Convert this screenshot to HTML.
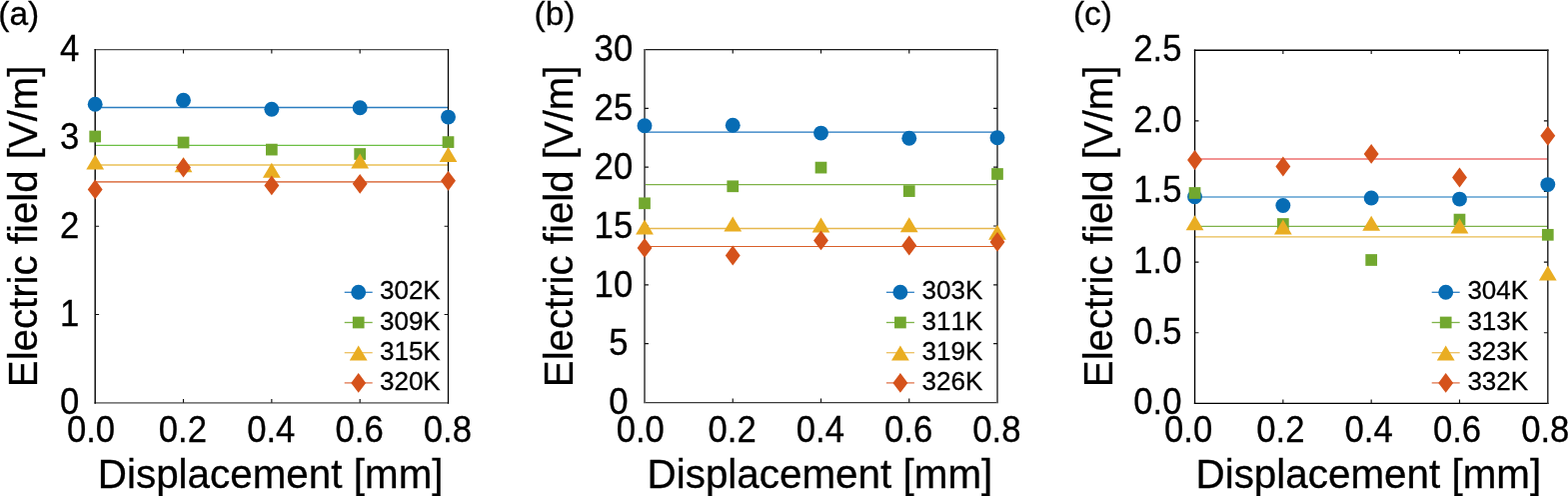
<!DOCTYPE html>
<html lang="en">
<head>
<meta charset="utf-8">
<title>Electric field vs displacement</title>
<style>
html,body{margin:0;padding:0;background:#fff;}
body{width:1569px;height:496px;overflow:hidden;}
svg{display:block;}
svg text{font-family:"Liberation Sans", Arial, Helvetica, sans-serif;fill:#000;font-kerning:none;stroke:#000;stroke-width:0.3px;}
</style>
</head>
<body>
<svg width="1569" height="496" viewBox="0 0 1569 496">
<rect width="1569" height="496" fill="#fff"/>
<g>
<text transform="translate(-1.70 24.90) scale(1 1.0)" font-size="33.5">(a)</text>
<line x1="95.20" y1="107.50" x2="448.50" y2="107.50" stroke="#2b7dc0" stroke-width="1.35"/>
<line x1="95.20" y1="145.30" x2="448.50" y2="145.30" stroke="#6cbf45" stroke-width="1.3"/>
<line x1="95.20" y1="165.10" x2="448.50" y2="165.10" stroke="#eac057" stroke-width="1.5"/>
<line x1="95.20" y1="181.90" x2="448.50" y2="181.90" stroke="#e0835c" stroke-width="1.6"/>
<line x1="94.50" y1="49.60" x2="449.12" y2="49.60" stroke="#505050" stroke-width="1.3"/>
<line x1="94.50" y1="402.85" x2="449.12" y2="402.85" stroke="#7c7c7c" stroke-width="1.8"/>
<line x1="95.20" y1="48.95" x2="95.20" y2="403.75" stroke="#000" stroke-width="1.4"/>
<line x1="448.50" y1="48.95" x2="448.50" y2="403.75" stroke="#000" stroke-width="1.25"/>
<path d="M183.53 402.80v-3.9M183.53 49.60v3.9M271.85 402.80v-3.9M271.85 49.60v3.9M360.18 402.80v-3.9M360.18 49.60v3.9M95.20 314.50h3.9M448.50 314.50h-3.9M95.20 226.20h3.9M448.50 226.20h-3.9M95.20 137.90h3.9M448.50 137.90h-3.9" stroke="#111" stroke-width="1.15" fill="none"/>
<circle cx="95.20" cy="104.20" r="7.45" fill="#076cb4"/>
<circle cx="183.53" cy="100.20" r="7.45" fill="#076cb4"/>
<circle cx="271.85" cy="109.20" r="7.45" fill="#076cb4"/>
<circle cx="360.18" cy="107.80" r="7.45" fill="#076cb4"/>
<circle cx="448.50" cy="117.10" r="7.45" fill="#076cb4"/>
<rect x="89.35" y="130.65" width="11.7" height="11.7" fill="#72a82f"/>
<rect x="177.68" y="136.65" width="11.7" height="11.7" fill="#72a82f"/>
<rect x="266.00" y="143.75" width="11.7" height="11.7" fill="#72a82f"/>
<rect x="354.32" y="148.15" width="11.7" height="11.7" fill="#72a82f"/>
<rect x="442.65" y="136.25" width="11.7" height="11.7" fill="#72a82f"/>
<polygon points="95.20,154.60 104.10,169.60 86.30,169.60" fill="#e9ad22"/>
<polygon points="183.53,157.20 192.43,172.20 174.62,172.20" fill="#e9ad22"/>
<polygon points="271.85,162.70 280.75,177.70 262.95,177.70" fill="#e9ad22"/>
<polygon points="360.18,153.60 369.07,168.60 351.28,168.60" fill="#e9ad22"/>
<polygon points="448.50,147.10 457.40,162.10 439.60,162.10" fill="#e9ad22"/>
<polygon points="95.20,179.50 102.65,189.40 95.20,199.30 87.75,189.40" fill="#d5521b"/>
<polygon points="183.53,157.60 190.97,167.50 183.53,177.40 176.08,167.50" fill="#d5521b"/>
<polygon points="271.85,175.50 279.30,185.40 271.85,195.30 264.40,185.40" fill="#d5521b"/>
<polygon points="360.18,173.95 367.62,183.85 360.18,193.75 352.73,183.85" fill="#d5521b"/>
<polygon points="448.50,170.90 455.95,180.80 448.50,190.70 441.05,180.80" fill="#d5521b"/>
<text transform="translate(79.30 414.20) scale(1 1.055)" font-size="34.7" text-anchor="end">0</text>
<text transform="translate(79.30 325.95) scale(1 1.055)" font-size="34.7" text-anchor="end">1</text>
<text transform="translate(79.30 237.70) scale(1 1.055)" font-size="34.7" text-anchor="end">2</text>
<text transform="translate(79.30 149.45) scale(1 1.055)" font-size="34.7" text-anchor="end">3</text>
<text transform="translate(79.30 61.20) scale(1 1.055)" font-size="34.7" text-anchor="end">4</text>
<text transform="translate(91.00 441.90) scale(1 1.055)" font-size="34.7" text-anchor="middle">0.0</text>
<text transform="translate(182.93 441.90) scale(1 1.055)" font-size="34.7" text-anchor="middle">0.2</text>
<text transform="translate(271.25 441.90) scale(1 1.055)" font-size="34.7" text-anchor="middle">0.4</text>
<text transform="translate(359.57 441.90) scale(1 1.055)" font-size="34.7" text-anchor="middle">0.6</text>
<text transform="translate(447.90 441.90) scale(1 1.055)" font-size="34.7" text-anchor="middle">0.8</text>
<text transform="translate(270.65 488.10) scale(1 1.005)" font-size="40.4" text-anchor="middle">Displacement [mm]</text>
<text transform="translate(37.40 226.30) rotate(-90) scale(1 1.005)" font-size="40.2" text-anchor="middle">Electric field [V/m]</text>
<line x1="344.70" y1="292.30" x2="372.70" y2="292.30" stroke="#2f80c4" stroke-width="1.3"/>
<circle cx="358.70" cy="292.30" r="7.45" fill="#076cb4"/>
<text transform="translate(380.00 299.40) scale(1 1.02)" font-size="26">302K</text>
<line x1="344.70" y1="322.50" x2="372.70" y2="322.50" stroke="#7fb44a" stroke-width="1.3"/>
<rect x="352.85" y="316.65" width="11.7" height="11.7" fill="#72a82f"/>
<text transform="translate(380.00 329.60) scale(1 1.02)" font-size="26">309K</text>
<line x1="344.70" y1="352.70" x2="372.70" y2="352.70" stroke="#ecc060" stroke-width="1.3"/>
<polygon points="358.70,345.40 367.60,360.40 349.80,360.40" fill="#e9ad22"/>
<text transform="translate(380.00 359.80) scale(1 1.02)" font-size="26">315K</text>
<line x1="344.70" y1="382.90" x2="372.70" y2="382.90" stroke="#e0764e" stroke-width="1.3"/>
<polygon points="358.70,373.00 366.15,382.90 358.70,392.80 351.25,382.90" fill="#d5521b"/>
<text transform="translate(380.00 390.00) scale(1 1.02)" font-size="26">320K</text>
</g>
<g>
<text transform="translate(534.50 24.90) scale(1 1.0)" font-size="33.5">(b)</text>
<line x1="645.00" y1="132.10" x2="998.00" y2="132.10" stroke="#2277bf" stroke-width="1.25"/>
<line x1="645.00" y1="184.70" x2="998.00" y2="184.70" stroke="#7fb248" stroke-width="1.25"/>
<line x1="645.00" y1="228.50" x2="998.00" y2="228.50" stroke="#e6b84f" stroke-width="1.3"/>
<line x1="645.00" y1="246.50" x2="998.00" y2="246.50" stroke="#d9602b" stroke-width="1.2"/>
<line x1="644.05" y1="49.50" x2="998.95" y2="49.50" stroke="#1c1c1c" stroke-width="1.25"/>
<line x1="644.05" y1="402.50" x2="998.95" y2="402.50" stroke="#3c3c3c" stroke-width="1.25"/>
<line x1="645.00" y1="48.88" x2="645.00" y2="403.12" stroke="#606060" stroke-width="1.9"/>
<line x1="998.00" y1="48.88" x2="998.00" y2="403.12" stroke="#606060" stroke-width="1.9"/>
<path d="M733.25 402.50v-3.9M733.25 49.50v3.9M821.50 402.50v-3.9M821.50 49.50v3.9M909.75 402.50v-3.9M909.75 49.50v3.9M645.00 343.67h3.9M998.00 343.67h-3.9M645.00 284.83h3.9M998.00 284.83h-3.9M645.00 226.00h3.9M998.00 226.00h-3.9M645.00 167.17h3.9M998.00 167.17h-3.9M645.00 108.33h3.9M998.00 108.33h-3.9" stroke="#111" stroke-width="1.15" fill="none"/>
<circle cx="645.00" cy="125.80" r="7.45" fill="#076cb4"/>
<circle cx="733.25" cy="125.20" r="7.45" fill="#076cb4"/>
<circle cx="821.50" cy="133.10" r="7.45" fill="#076cb4"/>
<circle cx="909.75" cy="138.30" r="7.45" fill="#076cb4"/>
<circle cx="998.00" cy="137.70" r="7.45" fill="#076cb4"/>
<rect x="639.15" y="197.45" width="11.7" height="11.7" fill="#72a82f"/>
<rect x="727.40" y="180.45" width="11.7" height="11.7" fill="#72a82f"/>
<rect x="815.65" y="161.75" width="11.7" height="11.7" fill="#72a82f"/>
<rect x="903.90" y="185.25" width="11.7" height="11.7" fill="#72a82f"/>
<rect x="992.15" y="168.15" width="11.7" height="11.7" fill="#72a82f"/>
<polygon points="645.00,219.60 653.90,234.60 636.10,234.60" fill="#e9ad22"/>
<polygon points="733.25,216.60 742.15,231.60 724.35,231.60" fill="#e9ad22"/>
<polygon points="821.50,217.50 830.40,232.50 812.60,232.50" fill="#e9ad22"/>
<polygon points="909.75,217.20 918.65,232.20 900.85,232.20" fill="#e9ad22"/>
<polygon points="998.00,224.70 1006.90,239.70 989.10,239.70" fill="#e9ad22"/>
<polygon points="645.00,238.00 652.45,247.90 645.00,257.80 637.55,247.90" fill="#d5521b"/>
<polygon points="733.25,245.60 740.70,255.50 733.25,265.40 725.80,255.50" fill="#d5521b"/>
<polygon points="821.50,230.50 828.95,240.40 821.50,250.30 814.05,240.40" fill="#d5521b"/>
<polygon points="909.75,235.60 917.20,245.50 909.75,255.40 902.30,245.50" fill="#d5521b"/>
<polygon points="998.00,232.00 1005.45,241.90 998.00,251.80 990.55,241.90" fill="#d5521b"/>
<text transform="translate(628.50 414.20) scale(1 1.055)" font-size="34.7" text-anchor="end">0</text>
<text transform="translate(628.50 355.37) scale(1 1.055)" font-size="34.7" text-anchor="end">5</text>
<text transform="translate(633.20 296.53) scale(1 1.055)" font-size="34.7" text-anchor="end">10</text>
<text transform="translate(633.20 237.70) scale(1 1.055)" font-size="34.7" text-anchor="end">15</text>
<text transform="translate(633.20 178.87) scale(1 1.055)" font-size="34.7" text-anchor="end">20</text>
<text transform="translate(633.20 120.03) scale(1 1.055)" font-size="34.7" text-anchor="end">25</text>
<text transform="translate(633.20 61.20) scale(1 1.055)" font-size="34.7" text-anchor="end">30</text>
<text transform="translate(640.80 441.90) scale(1 1.055)" font-size="34.7" text-anchor="middle">0.0</text>
<text transform="translate(732.65 441.90) scale(1 1.055)" font-size="34.7" text-anchor="middle">0.2</text>
<text transform="translate(820.90 441.90) scale(1 1.055)" font-size="34.7" text-anchor="middle">0.4</text>
<text transform="translate(909.15 441.90) scale(1 1.055)" font-size="34.7" text-anchor="middle">0.6</text>
<text transform="translate(997.40 441.90) scale(1 1.055)" font-size="34.7" text-anchor="middle">0.8</text>
<text transform="translate(820.40 488.10) scale(1 1.005)" font-size="40.4" text-anchor="middle">Displacement [mm]</text>
<text transform="translate(573.10 226.30) rotate(-90) scale(1 1.005)" font-size="40.2" text-anchor="middle">Electric field [V/m]</text>
<line x1="886.90" y1="292.30" x2="914.90" y2="292.30" stroke="#2f80c4" stroke-width="1.3"/>
<circle cx="900.90" cy="292.30" r="7.45" fill="#076cb4"/>
<text transform="translate(922.60 299.40) scale(1 1.02)" font-size="26">303K</text>
<line x1="886.90" y1="322.50" x2="914.90" y2="322.50" stroke="#7fb44a" stroke-width="1.3"/>
<rect x="895.05" y="316.65" width="11.7" height="11.7" fill="#72a82f"/>
<text transform="translate(922.60 329.60) scale(1 1.02)" font-size="26">311K</text>
<line x1="886.90" y1="352.70" x2="914.90" y2="352.70" stroke="#ecc060" stroke-width="1.3"/>
<polygon points="900.90,345.40 909.80,360.40 892.00,360.40" fill="#e9ad22"/>
<text transform="translate(922.60 359.80) scale(1 1.02)" font-size="26">319K</text>
<line x1="886.90" y1="382.90" x2="914.90" y2="382.90" stroke="#e0764e" stroke-width="1.3"/>
<polygon points="900.90,373.00 908.35,382.90 900.90,392.80 893.45,382.90" fill="#d5521b"/>
<text transform="translate(922.60 390.00) scale(1 1.02)" font-size="26">326K</text>
</g>
<g>
<text transform="translate(1073.90 24.90) scale(1 1.0)" font-size="33.5">(c)</text>
<line x1="1195.55" y1="197.00" x2="1548.80" y2="197.00" stroke="#5b9fd0" stroke-width="1.6"/>
<line x1="1195.55" y1="226.25" x2="1548.80" y2="226.25" stroke="#7fb24a" stroke-width="1.25"/>
<line x1="1195.55" y1="236.75" x2="1548.80" y2="236.75" stroke="#e8bc52" stroke-width="1.25"/>
<line x1="1195.55" y1="158.90" x2="1548.80" y2="158.90" stroke="#ee7070" stroke-width="1.5"/>
<line x1="1194.88" y1="50.20" x2="1549.55" y2="50.20" stroke="#000" stroke-width="1.5"/>
<line x1="1194.88" y1="403.40" x2="1549.55" y2="403.40" stroke="#000" stroke-width="1.25"/>
<line x1="1195.55" y1="49.45" x2="1195.55" y2="404.02" stroke="#000" stroke-width="1.35"/>
<line x1="1548.80" y1="49.45" x2="1548.80" y2="404.02" stroke="#2c2c2c" stroke-width="1.5"/>
<path d="M1283.86 403.40v-3.9M1283.86 50.20v3.9M1372.17 403.40v-3.9M1372.17 50.20v3.9M1460.49 403.40v-3.9M1460.49 50.20v3.9M1195.55 332.76h3.9M1548.80 332.76h-3.9M1195.55 262.12h3.9M1548.80 262.12h-3.9M1195.55 191.48h3.9M1548.80 191.48h-3.9M1195.55 120.84h3.9M1548.80 120.84h-3.9" stroke="#111" stroke-width="1.15" fill="none"/>
<circle cx="1195.55" cy="196.70" r="7.45" fill="#076cb4"/>
<circle cx="1283.86" cy="205.50" r="7.45" fill="#076cb4"/>
<circle cx="1372.17" cy="198.00" r="7.45" fill="#076cb4"/>
<circle cx="1460.49" cy="199.10" r="7.45" fill="#076cb4"/>
<circle cx="1548.80" cy="184.60" r="7.45" fill="#076cb4"/>
<rect x="1189.70" y="187.15" width="11.7" height="11.7" fill="#72a82f"/>
<rect x="1278.01" y="218.15" width="11.7" height="11.7" fill="#72a82f"/>
<rect x="1366.33" y="254.15" width="11.7" height="11.7" fill="#72a82f"/>
<rect x="1454.64" y="213.75" width="11.7" height="11.7" fill="#72a82f"/>
<rect x="1542.95" y="228.95" width="11.7" height="11.7" fill="#72a82f"/>
<polygon points="1195.55,215.20 1204.45,230.20 1186.65,230.20" fill="#e9ad22"/>
<polygon points="1283.86,219.50 1292.76,234.50 1274.96,234.50" fill="#e9ad22"/>
<polygon points="1372.17,215.80 1381.08,230.80 1363.27,230.80" fill="#e9ad22"/>
<polygon points="1460.49,218.60 1469.39,233.60 1451.59,233.60" fill="#e9ad22"/>
<polygon points="1548.80,265.60 1557.70,280.60 1539.90,280.60" fill="#e9ad22"/>
<polygon points="1195.55,150.10 1203.00,160.00 1195.55,169.90 1188.10,160.00" fill="#d5521b"/>
<polygon points="1283.86,156.60 1291.31,166.50 1283.86,176.40 1276.41,166.50" fill="#d5521b"/>
<polygon points="1372.17,144.00 1379.62,153.90 1372.17,163.80 1364.72,153.90" fill="#d5521b"/>
<polygon points="1460.49,167.60 1467.94,177.50 1460.49,187.40 1453.04,177.50" fill="#d5521b"/>
<polygon points="1548.80,125.90 1556.25,135.80 1548.80,145.70 1541.35,135.80" fill="#d5521b"/>
<text transform="translate(1182.50 414.20) scale(1 1.055)" font-size="34.7" text-anchor="end">0.0</text>
<text transform="translate(1182.50 343.60) scale(1 1.055)" font-size="34.7" text-anchor="end">0.5</text>
<text transform="translate(1182.50 273.00) scale(1 1.055)" font-size="34.7" text-anchor="end">1.0</text>
<text transform="translate(1182.50 202.40) scale(1 1.055)" font-size="34.7" text-anchor="end">1.5</text>
<text transform="translate(1182.50 131.80) scale(1 1.055)" font-size="34.7" text-anchor="end">2.0</text>
<text transform="translate(1182.50 61.20) scale(1 1.055)" font-size="34.7" text-anchor="end">2.5</text>
<text transform="translate(1189.15 441.90) scale(1 1.055)" font-size="34.7" text-anchor="middle">0.0</text>
<text transform="translate(1281.36 441.90) scale(1 1.055)" font-size="34.7" text-anchor="middle">0.2</text>
<text transform="translate(1369.67 441.90) scale(1 1.055)" font-size="34.7" text-anchor="middle">0.4</text>
<text transform="translate(1457.99 441.90) scale(1 1.055)" font-size="34.7" text-anchor="middle">0.6</text>
<text transform="translate(1546.30 441.90) scale(1 1.055)" font-size="34.7" text-anchor="middle">0.8</text>
<text transform="translate(1369.38 488.10) scale(1 1.005)" font-size="40.4" text-anchor="middle">Displacement [mm]</text>
<text transform="translate(1113.10 226.30) rotate(-90) scale(1 1.005)" font-size="40.2" text-anchor="middle">Electric field [V/m]</text>
<line x1="1432.70" y1="292.30" x2="1460.70" y2="292.30" stroke="#2f80c4" stroke-width="1.3"/>
<circle cx="1446.70" cy="292.30" r="7.45" fill="#076cb4"/>
<text transform="translate(1468.40 299.40) scale(1 1.02)" font-size="26">304K</text>
<line x1="1432.70" y1="322.50" x2="1460.70" y2="322.50" stroke="#7fb44a" stroke-width="1.3"/>
<rect x="1440.85" y="316.65" width="11.7" height="11.7" fill="#72a82f"/>
<text transform="translate(1468.40 329.60) scale(1 1.02)" font-size="26">313K</text>
<line x1="1432.70" y1="352.70" x2="1460.70" y2="352.70" stroke="#ecc060" stroke-width="1.3"/>
<polygon points="1446.70,345.40 1455.60,360.40 1437.80,360.40" fill="#e9ad22"/>
<text transform="translate(1468.40 359.80) scale(1 1.02)" font-size="26">323K</text>
<line x1="1432.70" y1="382.90" x2="1460.70" y2="382.90" stroke="#e0764e" stroke-width="1.3"/>
<polygon points="1446.70,373.00 1454.15,382.90 1446.70,392.80 1439.25,382.90" fill="#d5521b"/>
<text transform="translate(1468.40 390.00) scale(1 1.02)" font-size="26">332K</text>
</g>
</svg>
</body>
</html>
